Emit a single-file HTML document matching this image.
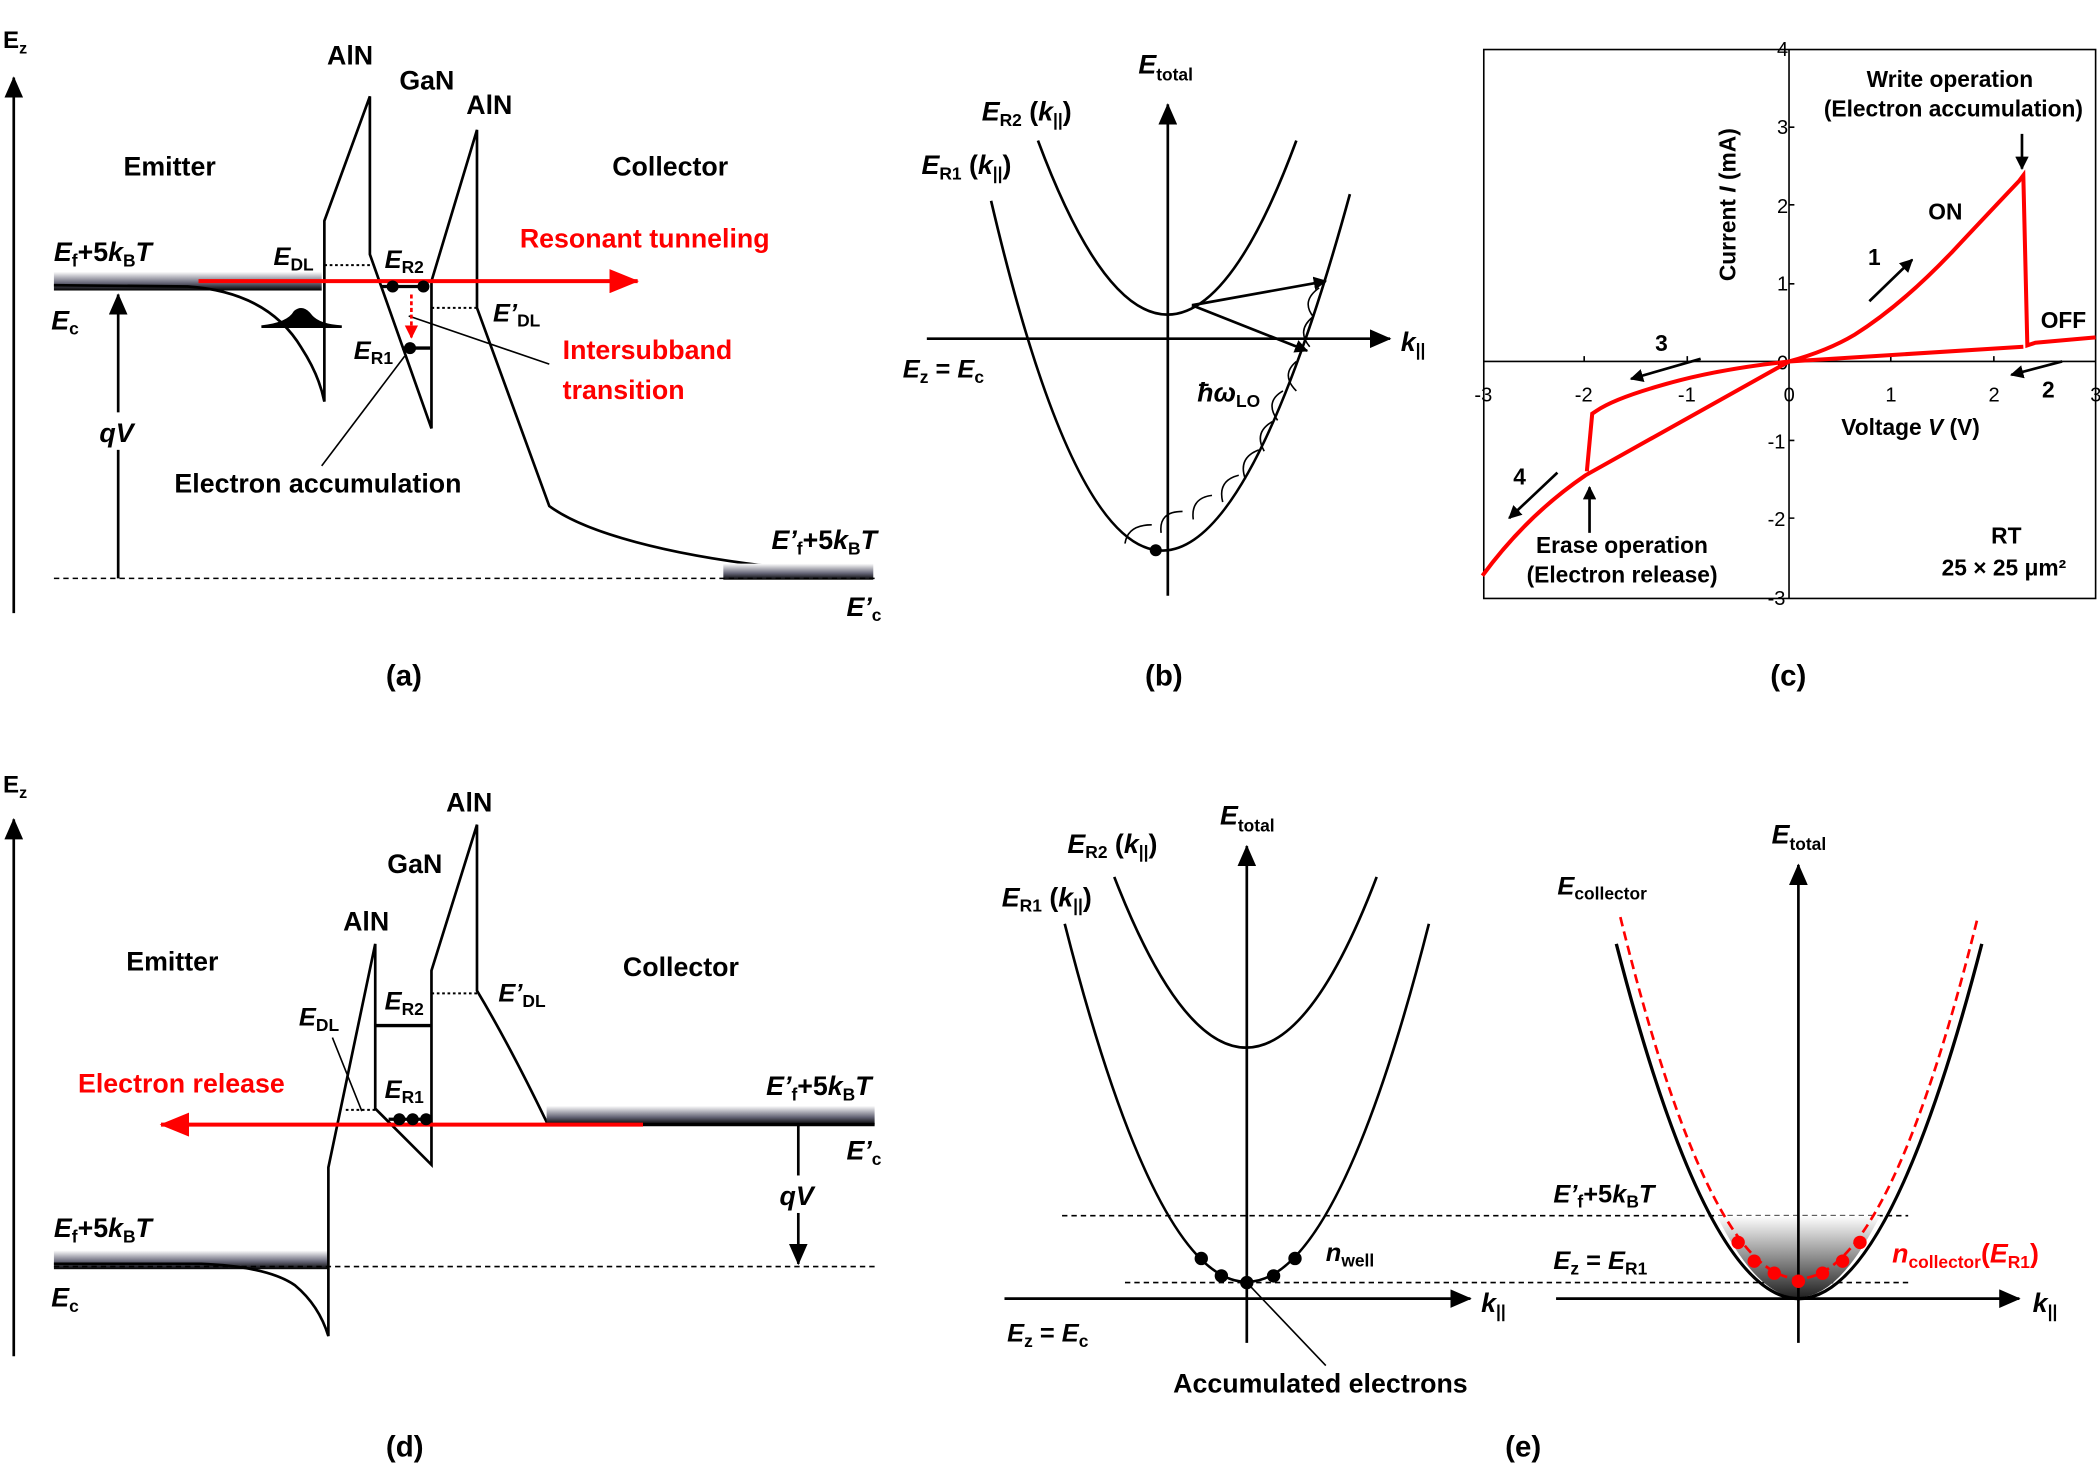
<!DOCTYPE html>
<html><head><meta charset="utf-8"><style>
html,body{margin:0;padding:0;background:#fff;}
svg{display:block;}
text{font-family:"Liberation Sans",sans-serif;font-weight:bold;fill:#000;}
.r{fill:#f00;}
.ax{font-weight:normal;font-size:15px;}
</style></head><body>
<svg width="2100" height="1466" viewBox="0 0 1568 1095" xmlns="http://www.w3.org/2000/svg">
<defs>
<marker id="ah" markerWidth="10" markerHeight="10" refX="9" refY="5" orient="auto" markerUnits="userSpaceOnUse"><path d="M0,0 L10,5 L0,10 Z" fill="#000"/></marker>
<marker id="ahb" markerWidth="16" markerHeight="14" refX="15" refY="7" orient="auto" markerUnits="userSpaceOnUse"><path d="M0,0 L16,7 L0,14 Z" fill="#000"/></marker>
<marker id="ahr" markerWidth="22" markerHeight="18" refX="21" refY="9" orient="auto" markerUnits="userSpaceOnUse"><path d="M0,0 L22,9 L0,18 Z" fill="#f00"/></marker>
<marker id="ahrs" markerWidth="10" markerHeight="10" refX="9" refY="5" orient="auto" markerUnits="userSpaceOnUse"><path d="M0,0 L10,5 L0,10 Z" fill="#f00"/></marker>
<linearGradient id="bg" x1="0" y1="0" x2="0" y2="1"><stop offset="0" stop-color="#fff"/><stop offset="0.6" stop-color="#667"/><stop offset="1" stop-color="#000"/></linearGradient>
<linearGradient id="bgh" x1="0" y1="0" x2="1" y2="0"><stop offset="0" stop-color="#fff" stop-opacity="0"/><stop offset="0.3" stop-color="#fff" stop-opacity="1"/><stop offset="1" stop-color="#fff" stop-opacity="1"/></linearGradient>
<linearGradient id="wg" x1="0" y1="0" x2="0" y2="1"><stop offset="0" stop-color="#fff"/><stop offset="1" stop-color="#222"/></linearGradient>
</defs>
<g stroke="#000" stroke-width="2" fill="none">
<!-- (a) -->
<line x1="10" y1="458" x2="10" y2="58" marker-end="url(#ahb)"/>
<rect x="40" y="203" width="200" height="14" fill="url(#bg)" stroke="none"/>
<path d="M40,213 L140,214 Q200,218 225,260 Q238,280 242,300 L242,165 L276,72 L276,190 L322,320 L322,210 L356,97 L356,230 L410,378 Q440,400 520,415 Q580,426 650,428"/>
<rect x="540" y="421" width="112" height="12" fill="url(#bg)" stroke="none"/>
<line x1="40" y1="432" x2="655" y2="432" stroke-dasharray="4,3" stroke-width="1.2"/>
<line x1="88" y1="432" x2="88" y2="220" marker-end="url(#ahb)"/>
<line x1="242" y1="198" x2="276" y2="198" stroke-dasharray="2,2" stroke-width="1.5"/>
<line x1="322" y1="230" x2="356" y2="230" stroke-dasharray="2,2" stroke-width="1.5"/>
<line x1="284" y1="214" x2="320" y2="214" stroke-width="2.5"/>
<line x1="300" y1="260" x2="321" y2="260" stroke-width="2.5"/>
<path d="M195,244 Q215,242 220,233 Q226,228 232,236 Q238,243 255,244 Z" fill="#000"/>
<line x1="305" y1="236" x2="410" y2="272" stroke-width="1.2"/>
<line x1="302" y1="266" x2="240" y2="348" stroke-width="1.2"/>
</g>
<rect x="70" y="308" width="36" height="28" fill="#fff"/>
<line x1="148" y1="210" x2="476" y2="210" stroke="#f00" stroke-width="3" marker-end="url(#ahr)"/>
<line x1="307" y1="220" x2="307" y2="252" stroke="#f00" stroke-width="2" stroke-dasharray="3,2" marker-end="url(#ahrs)"/>
<circle cx="293" cy="214" r="4.5"/><circle cx="316" cy="214" r="4.5"/><circle cx="306" cy="260" r="4.5"/>
<text x="2" y="36" font-size="18">E<tspan font-size="12" dy="4">z</tspan></text>
<text x="244" y="48" font-size="20">AlN</text>
<text x="298" y="67" font-size="20">GaN</text>
<text x="348" y="85" font-size="20">AlN</text>
<text x="92" y="131" font-size="20">Emitter</text>
<text x="457" y="131" font-size="20">Collector</text>
<text class="r" x="388" y="185" font-size="20">Resonant tunneling</text>
<text x="40" y="195" font-size="20"><tspan font-style="italic">E</tspan><tspan font-size="13" dy="4">f</tspan><tspan dy="-4">+5</tspan><tspan font-style="italic">k</tspan><tspan font-size="13" dy="4">B</tspan><tspan dy="-4" font-style="italic">T</tspan></text>
<text x="38" y="246" font-size="20" font-style="italic">E<tspan font-size="13" dy="4" font-style="normal">c</tspan></text>
<text x="204" y="198" font-size="19" font-style="italic">E<tspan font-size="13" dy="4" font-style="normal">DL</tspan></text>
<text x="287" y="200" font-size="19" font-style="italic">E<tspan font-size="13" dy="4" font-style="normal">R2</tspan></text>
<text x="264" y="268" font-size="19" font-style="italic">E<tspan font-size="13" dy="4" font-style="normal">R1</tspan></text>
<text x="368" y="240" font-size="19" font-style="italic">E’<tspan font-size="13" dy="4" font-style="normal">DL</tspan></text>
<text class="r" x="420" y="268" font-size="20">Intersubband</text>
<text class="r" x="420" y="298" font-size="20">transition</text>
<text x="74" y="330" font-size="20" font-style="italic">qV</text>
<text x="130" y="368" font-size="20">Electron accumulation</text>
<text x="576" y="410" font-size="20"><tspan font-style="italic">E’</tspan><tspan font-size="13" dy="4">f</tspan><tspan dy="-4">+5</tspan><tspan font-style="italic">k</tspan><tspan font-size="13" dy="4">B</tspan><tspan dy="-4" font-style="italic">T</tspan></text>
<text x="632" y="460" font-size="20" font-style="italic">E’<tspan font-size="13" dy="4" font-style="normal">c</tspan></text>
<text x="288" y="512" font-size="22">(a)</text>

<!-- (b) -->
<g stroke="#000" stroke-width="2" fill="none">
<line x1="872" y1="445" x2="872" y2="78" marker-end="url(#ahb)"/>
<line x1="692" y1="253" x2="1038" y2="253" marker-end="url(#ahb)"/>
<path d="M740,150 Q863,675 1008,145"/>
<path d="M775,105 Q872,365 968,105"/>
<line x1="890" y1="228" x2="990" y2="210" marker-end="url(#ah)"/>
<line x1="890" y1="228" x2="976" y2="262" marker-end="url(#ah)"/>
<path d="M985,215 q-14,10 -4,22 M980,237 q-12,10 -2,22 M968,270 q-12,10 0,22 M958,292 q-14,8 -4,22 M950,315 q-14,8 -6,22 M940,336 q-16,6 -10,22 M925,355 q-16,4 -12,20 M905,370 q-16,2 -14,18 M883,382 q-18,0 -16,16 M860,392 q-18,0 -20,14" stroke-width="1.2"/>
</g>
<circle cx="863" cy="411" r="4.5"/>
<text x="850" y="55" font-size="20" font-style="italic">E<tspan font-size="13" dy="5" font-style="normal">total</tspan></text>
<text x="733" y="90" font-size="20"><tspan font-style="italic">E</tspan><tspan font-size="13" dy="4">R2</tspan><tspan dy="-4"> (</tspan><tspan font-style="italic">k</tspan><tspan font-size="13" dy="4">||</tspan><tspan dy="-4">)</tspan></text>
<text x="688" y="130" font-size="20"><tspan font-style="italic">E</tspan><tspan font-size="13" dy="4">R1</tspan><tspan dy="-4"> (</tspan><tspan font-style="italic">k</tspan><tspan font-size="13" dy="4">||</tspan><tspan dy="-4">)</tspan></text>
<text x="1046" y="262" font-size="20" font-style="italic">k<tspan font-size="13" dy="4" font-style="normal">||</tspan></text>
<text x="674" y="282" font-size="19"><tspan font-style="italic">E</tspan><tspan font-size="13" dy="4">z</tspan><tspan dy="-4"> = </tspan><tspan font-style="italic">E</tspan><tspan font-size="13" dy="4">c</tspan></text>
<text x="894" y="300" font-size="20" font-style="italic">ħω<tspan font-size="13" dy="4" font-style="normal">LO</tspan></text>
<text x="855" y="512" font-size="22">(b)</text>

<!-- (c) -->
<g stroke="#000" stroke-width="1.2" fill="none">
<rect x="1108" y="37" width="457" height="410"/>
<line x1="1336" y1="37" x2="1336" y2="447"/>
<line x1="1108" y1="270" x2="1565" y2="270"/>
<path d="M1183,270v-4M1260,270v-4M1412,270v-4M1489,270v-4M1336,95h4M1336,153h4M1336,212h4M1336,329h4M1336,387h4"/>
</g>
<g class="ax">
<text class="ax" x="1327" y="42">4</text><text class="ax" x="1327" y="100">3</text><text class="ax" x="1327" y="159">2</text><text class="ax" x="1327" y="217">1</text><text class="ax" x="1327" y="276">0</text>
<text class="ax" x="1320" y="335">-1</text><text class="ax" x="1320" y="393">-2</text><text class="ax" x="1320" y="452">-3</text>
<text class="ax" x="1101" y="300">-3</text><text class="ax" x="1176" y="300">-2</text><text class="ax" x="1253" y="300">-1</text><text class="ax" x="1332" y="300">0</text><text class="ax" x="1408" y="300">1</text><text class="ax" x="1485" y="300">2</text><text class="ax" x="1561" y="300">3</text>
</g>
<g stroke="#f00" stroke-width="3" fill="none">
<path d="M1336,270 Q1365,262 1385,250 Q1420,228 1458,188 Q1488,156 1508,135 L1511,131 L1514,258 L1520,256 L1565,252"/>
<path d="M1511,259 Q1420,265 1336,270"/>
<path d="M1336,270 Q1280,276 1240,288 Q1205,298 1192,307 L1189,309 L1185,352"/>
<path d="M1336,270 Q1250,318 1184,355 Q1140,385 1107,430"/>
</g>
<g stroke="#000" stroke-width="2">
<line x1="1396" y1="225" x2="1428" y2="194" marker-end="url(#ah)"/>
<line x1="1270" y1="268" x2="1218" y2="283" marker-end="url(#ah)"/>
<line x1="1540" y1="270" x2="1502" y2="280" marker-end="url(#ah)"/>
<line x1="1163" y1="353" x2="1127" y2="387" marker-end="url(#ah)"/>
<line x1="1510" y1="100" x2="1510" y2="126" marker-end="url(#ah)"/>
<line x1="1187" y1="398" x2="1187" y2="364" marker-end="url(#ah)"/>
</g>
<text transform="translate(1296,210) rotate(-90)" font-size="17">Current <tspan font-style="italic">I</tspan> (mA)</text>
<text x="1394" y="65" font-size="17">Write operation</text>
<text x="1362" y="87" font-size="17">(Electron accumulation)</text>
<text x="1440" y="164" font-size="17">ON</text>
<text x="1524" y="245" font-size="17">OFF</text>
<text x="1395" y="198" font-size="17">1</text>
<text x="1525" y="297" font-size="17">2</text>
<text x="1236" y="262" font-size="17">3</text>
<text x="1130" y="362" font-size="17">4</text>
<text x="1375" y="325" font-size="17">Voltage <tspan font-style="italic">V</tspan> (V)</text>
<text x="1147" y="413" font-size="17">Erase operation</text>
<text x="1140" y="435" font-size="17">(Electron release)</text>
<text x="1487" y="406" font-size="17">RT</text>
<text x="1450" y="430" font-size="17">25 × 25 μm²</text>
<text x="1322" y="512" font-size="22">(c)</text>

<!-- (d) -->
<g stroke="#000" stroke-width="2" fill="none">
<line x1="10" y1="1013" x2="10" y2="612" marker-end="url(#ahb)"/>
<rect x="40" y="934" width="205" height="14" fill="url(#bg)" stroke="none"/>
<path d="M40,944 L150,944 Q200,946 220,960 Q238,975 245,998 L245,872 L280,705 L280,828 L322,870 L322,725 L356,616 L356,740 Q380,780 408,838 L480,838"/>
<rect x="408" y="826" width="245" height="14" fill="url(#bg)" stroke="none"/>
<line x1="408" y1="840" x2="653" y2="840" stroke-width="2.5"/>
<line x1="40" y1="946" x2="655" y2="946" stroke-dasharray="4,3" stroke-width="1.2"/>
<line x1="596" y1="840" x2="596" y2="944" marker-end="url(#ahb)"/>
<line x1="258" y1="829" x2="280" y2="829" stroke-dasharray="2,2" stroke-width="1.5"/>
<line x1="322" y1="742" x2="356" y2="742" stroke-dasharray="2,2" stroke-width="1.5"/>
<line x1="280" y1="766" x2="322" y2="766" stroke-width="2.5"/>
<line x1="290" y1="836" x2="322" y2="836" stroke-width="2.5"/>
<line x1="248" y1="775" x2="270" y2="830" stroke-width="1.2"/>
</g>
<rect x="580" y="878" width="34" height="28" fill="#fff"/>
<line x1="480" y1="840" x2="120" y2="840" stroke="#f00" stroke-width="3" marker-end="url(#ahr)"/>
<circle cx="298" cy="836" r="4.5"/><circle cx="308" cy="836" r="4.5"/><circle cx="318" cy="836" r="4.5"/>
<text x="2" y="592" font-size="18">E<tspan font-size="12" dy="4">z</tspan></text>
<text x="333" y="606" font-size="20">AlN</text>
<text x="289" y="652" font-size="20">GaN</text>
<text x="256" y="695" font-size="20">AlN</text>
<text x="94" y="725" font-size="20">Emitter</text>
<text x="465" y="729" font-size="20">Collector</text>
<text x="287" y="754" font-size="19" font-style="italic">E<tspan font-size="13" dy="4" font-style="normal">R2</tspan></text>
<text x="287" y="820" font-size="19" font-style="italic">E<tspan font-size="13" dy="4" font-style="normal">R1</tspan></text>
<text x="223" y="766" font-size="19" font-style="italic">E<tspan font-size="13" dy="4" font-style="normal">DL</tspan></text>
<text x="372" y="748" font-size="19" font-style="italic">E’<tspan font-size="13" dy="4" font-style="normal">DL</tspan></text>
<text class="r" x="58" y="816" font-size="20">Electron release</text>
<text x="572" y="818" font-size="20"><tspan font-style="italic">E’</tspan><tspan font-size="13" dy="4">f</tspan><tspan dy="-4">+5</tspan><tspan font-style="italic">k</tspan><tspan font-size="13" dy="4">B</tspan><tspan dy="-4" font-style="italic">T</tspan></text>
<text x="632" y="866" font-size="20" font-style="italic">E’<tspan font-size="13" dy="4" font-style="normal">c</tspan></text>
<text x="582" y="900" font-size="20" font-style="italic">qV</text>
<text x="40" y="924" font-size="20"><tspan font-style="italic">E</tspan><tspan font-size="13" dy="4">f</tspan><tspan dy="-4">+5</tspan><tspan font-style="italic">k</tspan><tspan font-size="13" dy="4">B</tspan><tspan dy="-4" font-style="italic">T</tspan></text>
<text x="38" y="976" font-size="20" font-style="italic">E<tspan font-size="13" dy="4" font-style="normal">c</tspan></text>
<text x="288" y="1088" font-size="22">(d)</text>

<!-- (e) left -->
<g stroke="#000" stroke-width="2" fill="none">
<line x1="931" y1="1003" x2="931" y2="632" marker-end="url(#ahb)"/>
<line x1="750" y1="970" x2="1098" y2="970" marker-end="url(#ahb)"/>
<path d="M795,690 Q931,1225 1067,690"/>
<path d="M832,655 Q931,910 1028,655"/>
<line x1="793" y1="908" x2="1425" y2="908" stroke-dasharray="4,3" stroke-width="1.2"/>
<line x1="840" y1="958" x2="1425" y2="958" stroke-dasharray="4,3" stroke-width="1.2"/>
<line x1="931" y1="958" x2="990" y2="1020" stroke-width="1.2"/>
</g>
<circle cx="897" cy="940" r="5"/><circle cx="912" cy="953" r="5"/><circle cx="931" cy="958" r="5"/><circle cx="951" cy="953" r="5"/><circle cx="967" cy="940" r="5"/>
<text x="911" y="616" font-size="20" font-style="italic">E<tspan font-size="13" dy="5" font-style="normal">total</tspan></text>
<text x="797" y="637" font-size="20"><tspan font-style="italic">E</tspan><tspan font-size="13" dy="4">R2</tspan><tspan dy="-4"> (</tspan><tspan font-style="italic">k</tspan><tspan font-size="13" dy="4">||</tspan><tspan dy="-4">)</tspan></text>
<text x="748" y="677" font-size="20"><tspan font-style="italic">E</tspan><tspan font-size="13" dy="4">R1</tspan><tspan dy="-4"> (</tspan><tspan font-style="italic">k</tspan><tspan font-size="13" dy="4">||</tspan><tspan dy="-4">)</tspan></text>
<text x="990" y="942" font-size="19" font-style="italic">n<tspan font-size="13" dy="4" font-style="normal">well</tspan></text>
<text x="1106" y="980" font-size="20" font-style="italic">k<tspan font-size="13" dy="4" font-style="normal">||</tspan></text>
<text x="752" y="1002" font-size="19"><tspan font-style="italic">E</tspan><tspan font-size="13" dy="4">z</tspan><tspan dy="-4"> = </tspan><tspan font-style="italic">E</tspan><tspan font-size="13" dy="4">c</tspan></text>
<text x="876" y="1040" font-size="20">Accumulated electrons</text>

<!-- (e) right -->
<path d="M1282,908 Q1343,1030 1404,908 Z" fill="url(#wg)"/>
<g stroke="#000" stroke-width="2" fill="none">
<line x1="1343" y1="1003" x2="1343" y2="646" marker-end="url(#ahb)"/>
<line x1="1162" y1="970" x2="1508" y2="970" marker-end="url(#ahb)"/>
<path d="M1207,705 Q1343,1235 1480,705" stroke-width="2.5"/>
</g>
<path d="M1210,685 Q1343,1225 1477,685" stroke="#f00" stroke-width="2" stroke-dasharray="7,4" fill="none"/>
<g fill="#f00"><circle cx="1298" cy="928" r="5"/><circle cx="1310" cy="942" r="5"/><circle cx="1325" cy="951" r="5"/><circle cx="1343" cy="957" r="5"/><circle cx="1361" cy="951" r="5"/><circle cx="1376" cy="942" r="5"/><circle cx="1389" cy="928" r="5"/></g>
<text x="1323" y="630" font-size="20" font-style="italic">E<tspan font-size="13" dy="5" font-style="normal">total</tspan></text>
<text x="1163" y="668" font-size="19" font-style="italic">E<tspan font-size="13" dy="4" font-style="normal">collector</tspan></text>
<text x="1160" y="898" font-size="19"><tspan font-style="italic">E’</tspan><tspan font-size="13" dy="4">f</tspan><tspan dy="-4">+5</tspan><tspan font-style="italic">k</tspan><tspan font-size="13" dy="4">B</tspan><tspan dy="-4" font-style="italic">T</tspan></text>
<text x="1160" y="948" font-size="19"><tspan font-style="italic">E</tspan><tspan font-size="13" dy="4">z</tspan><tspan dy="-4"> = </tspan><tspan font-style="italic">E</tspan><tspan font-size="13" dy="4">R1</tspan></text>
<text class="r" x="1413" y="943" font-size="20"><tspan class="r" font-style="italic">n</tspan><tspan class="r" font-size="13" dy="4">collector</tspan><tspan class="r" dy="-4">(</tspan><tspan class="r" font-style="italic">E</tspan><tspan class="r" font-size="13" dy="4">R1</tspan><tspan class="r" dy="-4">)</tspan></text>
<text x="1518" y="980" font-size="20" font-style="italic">k<tspan font-size="13" dy="4" font-style="normal">||</tspan></text>
<text x="1124" y="1088" font-size="22">(e)</text>
</svg>
</body></html>
